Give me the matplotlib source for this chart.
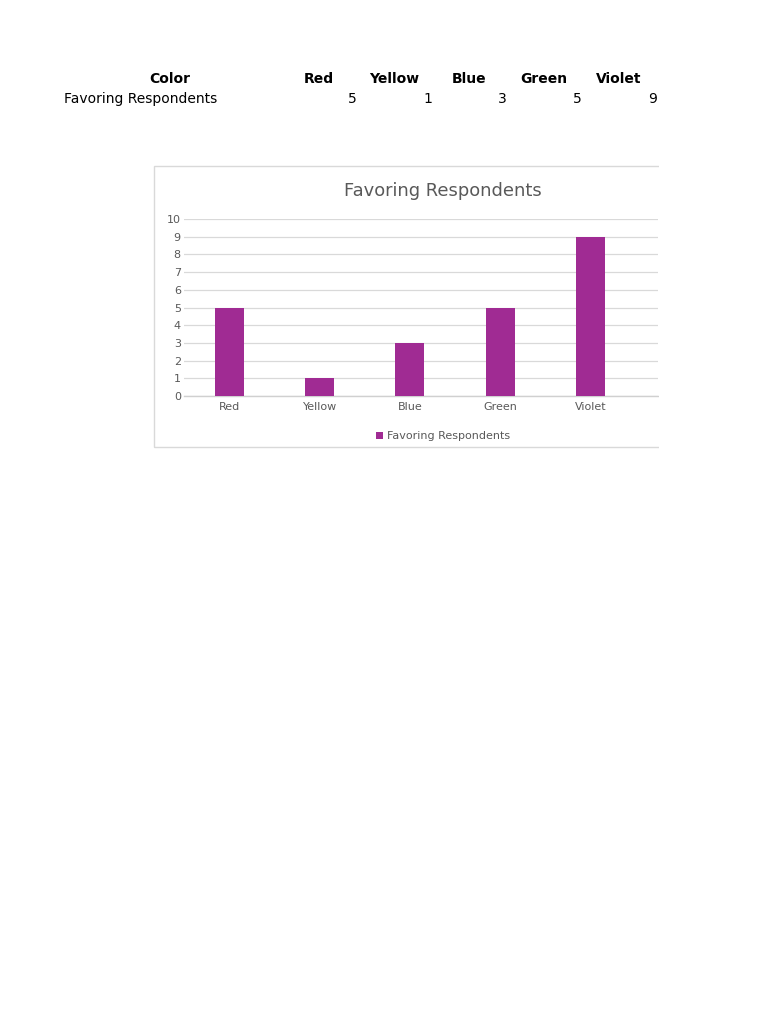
import matplotlib
matplotlib.use("Agg")
import matplotlib.pyplot as plt
from matplotlib.patches import Rectangle

# data
colors = ["Red", "Yellow", "Blue", "Green", "Violet"]
respondents = [5, 1, 3, 5, 9]
series_name = "Favoring Respondents"

W, H = 768, 1024
fig = plt.figure(figsize=(W / 100, H / 100), dpi=100)
fig.patch.set_facecolor("white")

def fx(px):
    return px / W

def fy(py):
    return 1 - py / H

# spreadsheet table above the chart
col_centers = [319, 394, 469, 544, 619]
col_rights = [357, 432, 507, 582, 657]
fig.text(fx(170), fy(79), "Color", ha="center", va="center", fontsize=10,
         fontweight="bold", color="black")
fig.text(fx(64), fy(99), series_name, ha="left", va="center", fontsize=10, color="black")
for c, v, xc, xr in zip(colors, respondents, col_centers, col_rights):
    fig.text(fx(xc), fy(79), c, ha="center", va="center", fontsize=10,
             fontweight="bold", color="black")
    fig.text(fx(xr), fy(99), str(v), ha="right", va="center", fontsize=10, color="black")

# chart frame (cut off at the right edge of the page area)
frame = Rectangle((fx(153.5), fy(446.5)), fx(800 - 153.5), fy(165.5) - fy(446.5),
                  transform=fig.transFigure, fill=False, edgecolor="#d9d9d9", lw=1)
fig.add_artist(frame)
# white cover to clip at the right
fig.add_artist(Rectangle((fx(659), 0), 1, 1, transform=fig.transFigure,
                         facecolor="white", edgecolor="none", zorder=10))

ax = fig.add_axes([fx(184.3), fy(396), fx(658 - 184.3), fy(219) - fy(396)])
x = range(len(colors))
ax.bar(x, respondents, width=0.32, color="#A02B93", zorder=3, label=series_name)
ax.set_ylim(0, 10)
ax.set_xlim(-0.5, 4.75)
ax.set_yticks(range(0, 11))
ax.set_xticks(list(x))
ax.set_xticklabels(colors)
ax.grid(axis="y", color="#d9d9d9", lw=0.9, zorder=0)
ax.tick_params(axis="both", length=0, labelsize=8, labelcolor="#595959")
ax.tick_params(axis="x", pad=4)
ax.tick_params(axis="y", pad=2.5)
for s in ax.spines.values():
    s.set_visible(False)
ax.axhline(0, color="#d0d0d0", lw=1, zorder=2, clip_on=False)

fig.text(fx(443), fy(191), series_name, ha="center", va="center", fontsize=12.9,
         color="#595959")

fig.legend(loc="center", bbox_to_anchor=(fx(443), fy(436)), frameon=False,
           fontsize=8, labelcolor="#595959", handlelength=0.6, handleheight=0.6,
           handletextpad=0.4)

fig.savefig("out.png", dpi=100)
